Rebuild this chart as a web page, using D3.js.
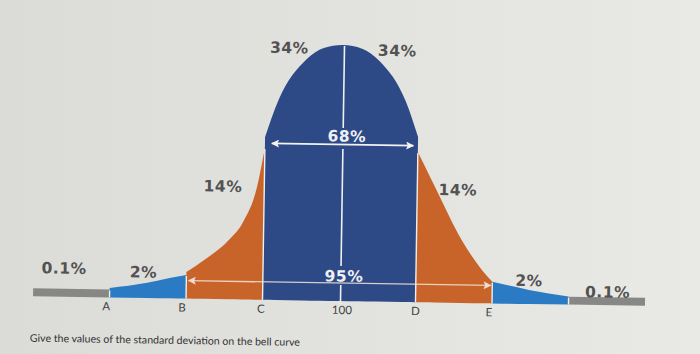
<!DOCTYPE html>
<html>
<head>
<meta charset="utf-8">
<script src="https://cdn.jsdelivr.net/npm/d3@7"></script>
<style>
  body { margin: 0; background: #e2e2df; }
  svg { display: block; }
</style>
</head>
<body>
<script>
// curve outline: z = standard deviations, h = height in % of peak
var greyLZ   = [-4, -3],                                 greyLH   = [3.1, 3.1];
var blueLZ   = [-3, -2.51, -2.22, -2],                   blueLH   = [3.7, 5.9, 7.9, 9.2];
var orangeLZ = [-2, -1.77, -1.45, -1.27, -1.095, -1],    orangeLH = [10.4, 15.2, 23.2, 30.3, 44, 59.3];
var domeZ    = [-1, -0.83, -0.48, -0.25, 0, 0.25, 0.48, 0.83, 1];
var domeH    = [63.6, 78.2, 94, 98.7, 100, 98.7, 94, 78.5, 64.5];
var orangeRZ = [1, 1.1, 1.25, 1.59, 1.92, 2],            orangeRH = [58.7, 52.9, 44, 24.6, 11, 8.5];
var blueRZ   = [2, 2.48, 3],                             blueRH   = [8.5, 5.5, 3.2];
var greyRZ   = [3, 4],                                   greyRH   = [3.1, 3.1];

// percent labels
var pctText = ["0.1%", "2%", "14%", "34%", "34%", "14%", "2%", "0.1%"];
var pctZ    = [-3.6, -2.56, -1.54, -0.7, 0.71, 1.53, 2.48, 3.51];
var pctH    = [9, 8, 42, 96.5, 96, 42, 7, 3];

// letters under the curve
var tickText = ["A", "B", "C", "100", "D", "E"];
var tickZ    = [-3.04, -2.05, -1.02, 0.04, 1.0, 1.96];

var width = 700, height = 354;
var base = 301;

var svg = d3.select("body").append("svg")
    .attr("width", width)
    .attr("height", height);

var defs = svg.append("defs");
var grad = defs.append("linearGradient").attr("id", "bg")
    .attr("x1", "0%").attr("x2", "100%").attr("y1", "0%").attr("y2", "0%");
grad.append("stop").attr("offset", "0%").attr("stop-color", "#dbdbd7");
grad.append("stop").attr("offset", "100%").attr("stop-color", "#e9e9e6");

defs.append("marker").attr("id", "arr")
    .attr("viewBox", "0 0 10 10").attr("refX", 9).attr("refY", 5)
    .attr("markerUnits", "userSpaceOnUse")
    .attr("markerWidth", 13).attr("markerHeight", 8)
    .attr("orient", "auto-start-reverse")
    .append("path").attr("d", "M0,0L10,5L0,10L2,5Z").attr("fill", "#f6f2ee");

svg.append("rect").attr("width", width).attr("height", height).attr("fill", "url(#bg)");

// the photo is slightly tilted
var g = svg.append("g").attr("transform", "rotate(0.9,340," + base + ")");

var x = d3.scaleLinear().domain([-4, 4]).range([33, 645]);
var y = d3.scaleLinear().domain([0, 100]).range([base, 45]);

var area = d3.area()
    .x(function (d) { return x(d[0]); })
    .y0(base)
    .y1(function (d) { return y(d[1]); })
    .curve(d3.curveMonotoneX);

var bands = [
    [greyLZ, greyLH, "#878786"],
    [blueLZ, blueLH, "#2b7bc4"],
    [orangeLZ, orangeLH, "#c8642a"],
    [domeZ, domeH, "#2d4a86"],
    [orangeRZ, orangeRH, "#c8642a"],
    [blueRZ, blueRH, "#2b7bc4"],
    [greyRZ, greyRH, "#878786"]
];

bands.forEach(function (b) {
    g.append("path")
        .datum(d3.zip(b[0], b[1]))
        .attr("d", area)
        .attr("fill", b[2]);
});

// light dividers between bands
bands.slice(1).forEach(function (b, i) {
    var prev = bands[i][1];
    var h = Math.min(prev[prev.length - 1], b[1][0]);
    var z = b[0][0];
    g.append("line")
        .attr("x1", x(z)).attr("x2", x(z))
        .attr("y1", base).attr("y2", y(h) + 1)
        .attr("stroke", "#eeeeea").attr("stroke-width", 1.4);
});

// centre line, broken around the labels
[[y(100) + 1, 128], [149, 266], [285, 304]].forEach(function (seg) {
    g.append("line")
        .attr("x1", x(0) + 1.5).attr("x2", x(0) + 1.5)
        .attr("y1", seg[0]).attr("y2", seg[1])
        .attr("stroke", "#eef0f2").attr("stroke-width", 1.6);
});

// 68% and 95% arrows
g.append("line")
    .attr("x1", x(-0.91)).attr("x2", x(0.94))
    .attr("y1", 144.5).attr("y2", 144.5)
    .attr("stroke", "#f2f2f2").attr("stroke-width", 1.6)
    .attr("marker-start", "url(#arr)").attr("marker-end", "url(#arr)");
g.append("line")
    .attr("x1", x(-1.97)).attr("x2", x(1.98))
    .attr("y1", 283).attr("y2", 283)
    .attr("stroke", "#f6e4d6").attr("stroke-width", 1.4).attr("opacity", 0.85)
    .attr("marker-start", "url(#arr)").attr("marker-end", "url(#arr)");

// percent labels
g.selectAll(".pct")
    .data(pctText)
    .enter().append("text")
    .attr("class", "pct")
    .attr("x", function (d, i) { return x(pctZ[i]); })
    .attr("y", function (d, i) { return y(pctH[i]); })
    .attr("text-anchor", "middle")
    .attr("font-family", "DejaVu Sans")
    .attr("font-weight", "bold")
    .attr("font-size", 15.5)
    .attr("letter-spacing", 0.5)
    .attr("fill", "#525252")
    .text(function (d) { return d; });

g.append("text")
    .attr("x", x(0.07)).attr("y", 141.5)
    .attr("text-anchor", "middle")
    .attr("font-family", "DejaVu Sans").attr("font-weight", "bold")
    .attr("font-size", 15.5).attr("letter-spacing", 0.5).attr("fill", "#eef0f4")
    .text("68%");
g.append("text")
    .attr("x", x(0.06)).attr("y", 281.5)
    .attr("text-anchor", "middle")
    .attr("font-family", "DejaVu Sans").attr("font-weight", "bold")
    .attr("font-size", 15.5).attr("letter-spacing", 0.5).attr("fill", "#eef0f4")
    .text("95%");

// axis letters
g.selectAll(".tick")
    .data(tickText)
    .enter().append("text")
    .attr("class", "tick")
    .attr("x", function (d, i) { return x(tickZ[i]); })
    .attr("y", 314)
    .attr("text-anchor", "middle")
    .attr("font-family", "Lato")
    .attr("font-size", 11.5)
    .attr("fill", "#444")
    .text(function (d) { return d; });

// caption
g.append("text")
    .attr("x", 30.5).attr("y", 346.5)
    .attr("font-family", "Lato")
    .attr("font-size", 10.6)
    .attr("fill", "#333")
    .text("Give the values of the standard deviation on the bell curve");
</script>
</body>
</html>
